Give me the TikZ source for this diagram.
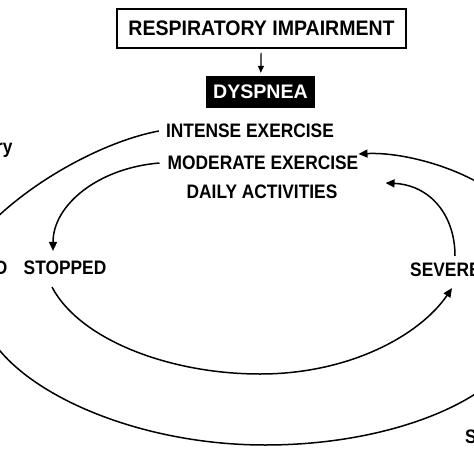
\documentclass[tikz,border=0pt]{standalone}
\usepackage{fontspec}
\setmainfont{Liberation Sans}
\newfontfamily\nf[FakeStretch=0.89]{Liberation Sans}
\newfontfamily\nfb[FakeStretch=0.93]{Liberation Sans}
\usetikzlibrary{arrows.meta}
\begin{document}
\begin{tikzpicture}[x=1pt,y=-1pt,
 lbl/.style={font=\nf\fontsize{19.5}{22}\selectfont\bfseries, inner sep=0pt},
 big/.style={font=\nfb\fontsize{21}{24}\selectfont\bfseries, inner sep=0pt},
 conn/.style={line width=1.5pt, -{Triangle[length=9pt,width=8pt]}},
 plainc/.style={line width=1.5pt}]
\useasboundingbox (0,0) rectangle (474,474);
\node[big, draw, line width=1.5pt, minimum width=289pt, minimum height=39pt] (ri) at (261.5,28.5) {RESPIRATORY IMPAIRMENT};
\node[font=\fontsize{19.6}{22}\selectfont\bfseries, inner sep=0pt, fill=black, text=white, minimum width=109pt, minimum height=32pt] (dy) at (260.5,92) {DYSPNEA};
\draw[line width=1.2pt, -{Triangle[length=7pt,width=6pt]}, shorten <=4pt, shorten >=3pt] (ri) -- (dy);
\node[lbl] (ie) at (250,131) {INTENSE EXERCISE};
\node[lbl] (me) at (263,163) {MODERATE EXERCISE};
\node[lbl] (da) at (262,192) {DAILY ACTIVITIES};
\node[lbl] (st) at (65,268) {STOPPED};
\node[lbl, anchor=west] (sv) at (410,270) {SEVERE};
\node[lbl, anchor=base west] (ry) at (-4,153) {ry};
\node[lbl, anchor=east] (dl) at (7.5,268) {D};
\node[lbl, anchor=west] (s2) at (465,437) {S};
\coordinate (offL1) at (-8,222);
\coordinate (offL2) at (-10,337);
\coordinate (offR1) at (484,186);
\coordinate (offR2) at (484,388);
\coordinate (bot1) at (260,374);
\coordinate (bot2) at (265,445);
% outer loop
\draw[plainc] ([xshift=-7pt]ie.west) .. controls (110,140) and (40,175) .. (offL1);
\draw[plainc] (offL2) .. controls (25,395) and (140,445) .. (bot2) .. controls (360,445) and (440,420) .. (offR2);
\draw[conn] (offR1) .. controls (450,165) and (400,152) .. ([yshift=9pt]me.east);
% inner loop
\draw[conn] ([xshift=-8pt]me.west) .. controls (98,168) and (53,205) .. ([xshift=-12pt,yshift=10pt]st.north);
\draw[conn] ([xshift=-13pt,yshift=-12pt]st.south) .. controls (80,340) and (170,374) .. (bot1) .. controls (350,374) and (420,335) .. ([xshift=42pt,yshift=-11pt]sv.south west);
\draw[conn] ([xshift=45pt,yshift=7pt]sv.north west) .. controls (455,215) and (430,185) .. ([xshift=48pt,yshift=9pt]da.east);
\end{tikzpicture}
\end{document}
